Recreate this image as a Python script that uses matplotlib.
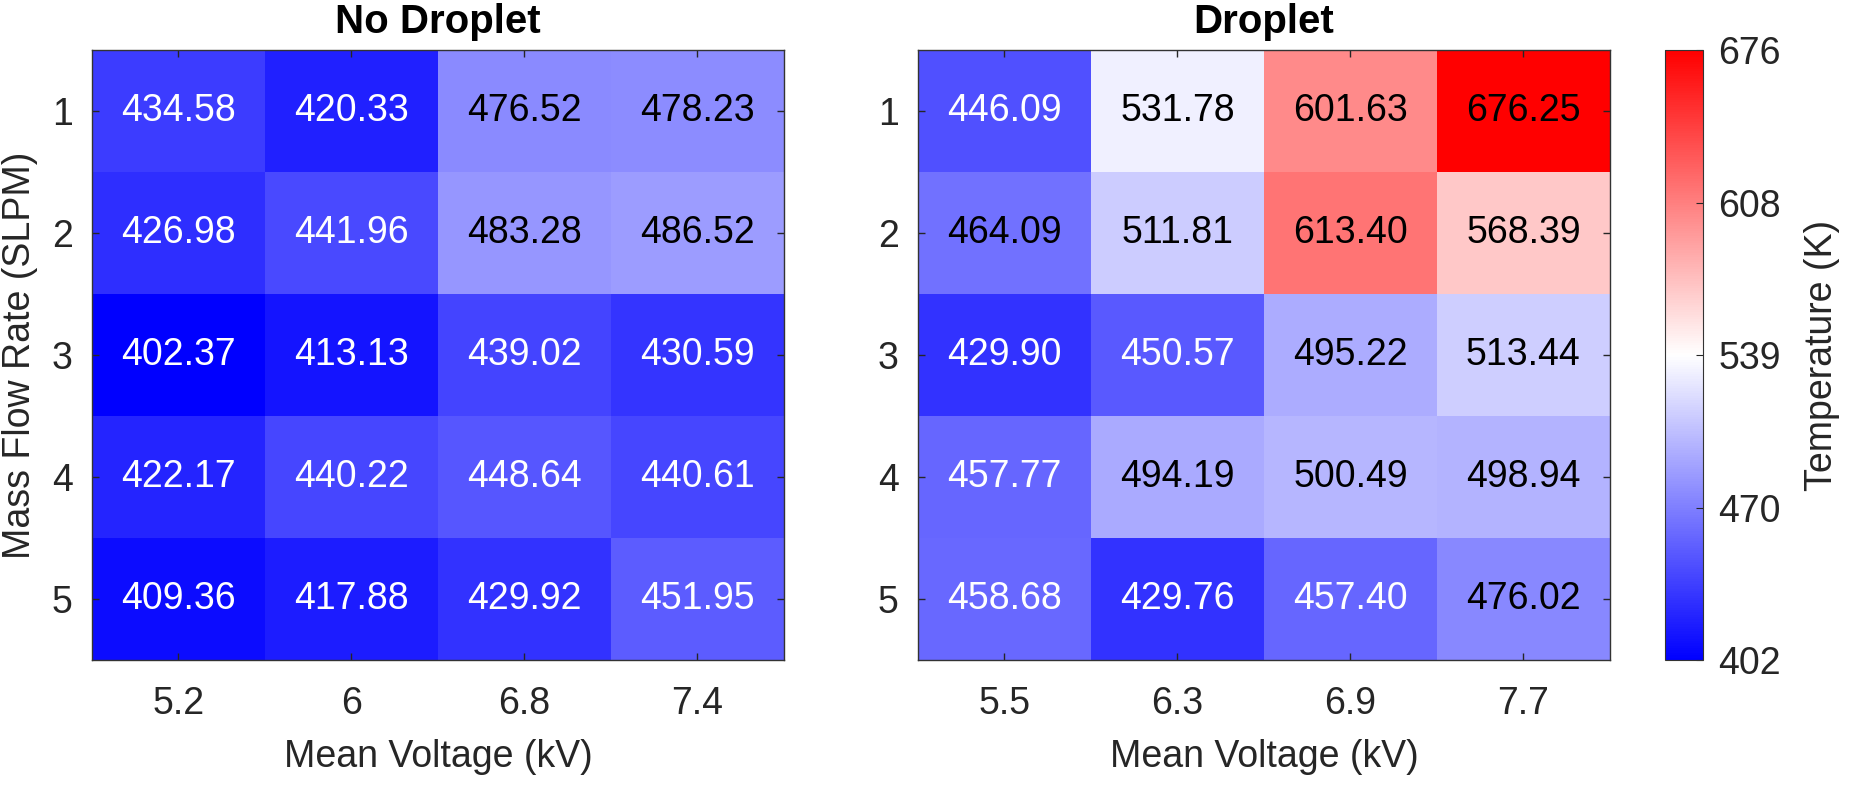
import numpy as np
import matplotlib.pyplot as plt
from matplotlib.colors import LinearSegmentedColormap

plt.rcParams['font.family'] = ['Liberation Sans', 'DejaVu Sans']

# data
flow_rates = ['1', '2', '3', '4', '5']
volt_no_drop = ['5.2', '6', '6.8', '7.4']
volt_drop = ['5.5', '6.3', '6.9', '7.7']

temp_no_drop = np.array([
    [434.58, 420.33, 476.52, 478.23],
    [426.98, 441.96, 483.28, 486.52],
    [402.37, 413.13, 439.02, 430.59],
    [422.17, 440.22, 448.64, 440.61],
    [409.36, 417.88, 429.92, 451.95],
])
temp_drop = np.array([
    [446.09, 531.78, 601.63, 676.25],
    [464.09, 511.81, 613.40, 568.39],
    [429.90, 450.57, 495.22, 513.44],
    [457.77, 494.19, 500.49, 498.94],
    [458.68, 429.76, 457.40, 476.02],
])
cbar_labels = ['402', '470', '539', '608', '676']

vmin = min(temp_no_drop.min(), temp_drop.min())
vmax = max(temp_no_drop.max(), temp_drop.max())
cmap = LinearSegmentedColormap.from_list('bwr_lin', [(0, 0, 1), (1, 1, 1), (1, 0, 0)])

txt_col = '#262626'
fs = 27
fig = plt.figure(figsize=(18.5, 7.89), dpi=100)
ax1 = fig.add_axes([0.0497, 0.1635, 0.374, 0.7731])
ax2 = fig.add_axes([0.4962, 0.1635, 0.374, 0.7731])
cax = fig.add_axes([0.900, 0.1635, 0.0205, 0.7731])


def draw_map(ax, data, xlabels, title):
    im = ax.imshow(data, cmap=cmap, vmin=vmin, vmax=vmax, aspect='auto')
    for i in range(data.shape[0]):
        for j in range(data.shape[1]):
            v = data[i, j]
            c = 'white' if v < 462 else 'black'
            ax.text(j, i, f'{v:.2f}', ha='center', va='center', fontsize=fs, color=c)
    ax.set_xticks(range(len(xlabels)))
    ax.set_xticklabels(xlabels)
    ax.set_yticks(range(len(flow_rates)))
    ax.set_yticklabels(flow_rates)
    ax.tick_params(direction='in', length=5, width=1, colors=txt_col, labelsize=fs,
                   top=True, right=True)
    ax.tick_params(axis='x', pad=19)
    ax.tick_params(axis='y', pad=14)
    for s in ax.spines.values():
        s.set_color('#333333')
        s.set_linewidth(1)
    ax.set_xlabel('Mean Voltage (kV)', fontsize=fs, color=txt_col, labelpad=12)
    ax.set_title(title, fontsize=29, fontweight='bold', pad=12)
    return im


im = draw_map(ax1, temp_no_drop, volt_no_drop, 'No Droplet')
draw_map(ax2, temp_drop, volt_drop, 'Droplet')
ax1.set_ylabel('Mass Flow Rate (SLPM)', fontsize=fs, color=txt_col, labelpad=10)

cb = fig.colorbar(im, cax=cax)
cb.set_ticks(np.linspace(vmin, vmax, 5))
cb.set_ticklabels(cbar_labels)
cax.tick_params(direction='in', length=5, colors=txt_col, labelsize=fs, pad=11)
cb.outline.set_edgecolor('#333333')
cb.set_label('Temperature (K)', fontsize=fs, color=txt_col, labelpad=17)

fig.savefig('out.png', dpi=100)
